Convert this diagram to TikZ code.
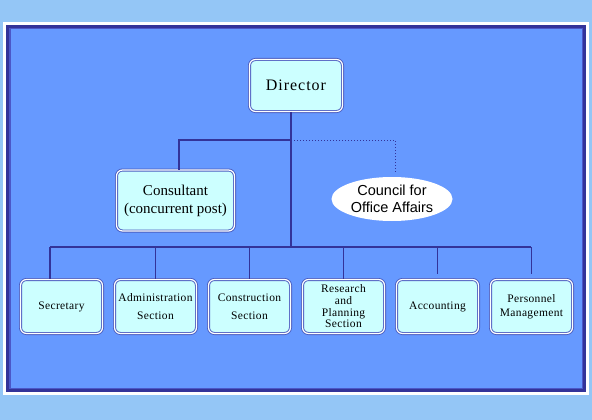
\documentclass[tikz,border=0pt]{standalone}
\usepackage{fontspec}
\setmainfont{Liberation Serif}
\newfontfamily\councilfont{Liberation Sans}
\usetikzlibrary{shapes.geometric}
\definecolor{bgblue}{HTML}{94C6F6}
\definecolor{panel}{HTML}{6699FF}
\definecolor{navy}{HTML}{333399}
\definecolor{frameinner}{HTML}{4B57C8}
\definecolor{boxfill}{HTML}{CCFFFF}
\definecolor{boxline}{HTML}{4A5CC0}
\begin{document}
\begin{tikzpicture}[x=1pt,y=-1pt,
  box/.style={draw=boxline, double=white, double distance=1.2pt, line width=0.9pt,
    fill=boxfill, rounded corners=6pt, align=center, inner sep=1pt},
  unitbox/.style={box, minimum width=82pt, minimum height=54pt},
  unitfont/.style={font=\fontsize{11.5}{#1}\selectfont\addfontfeature{LetterSpace=3}},
  link/.style={draw=navy, line width=1.4pt},
  mainlink/.style={draw=navy, line width=1.1pt},
  dotlink/.style={draw=navy, line width=1pt, dotted}]
  % background and frame
  \fill[bgblue] (0,0) rectangle (592,420);
  \fill[white] (3,22) rectangle (589,395);
  \fill[navy] (6,25) rectangle (586,392);
  \fill[frameinner] (9,28) rectangle (583,389);
  \fill[panel] (10.5,29.5) rectangle (581.5,387.5);
  \useasboundingbox (0,0) rectangle (592,420);

  % nodes
  \node[box, minimum width=93pt, minimum height=52pt,
        font=\fontsize{16}{18}\selectfont\addfontfeature{LetterSpace=6}] (dir) at (296,85.5) {Director};
  \node[box, minimum width=118pt, minimum height=61pt,
        font=\fontsize{15}{18}\selectfont] (cons) at (175.5,200.5) {Consultant\\(concurrent post)};
  \node[ellipse, fill=white, minimum width=121pt, minimum height=44pt, inner sep=0pt,
        align=center, font=\councilfont\fontsize{14.5}{17}\selectfont] (council) at (392,199) {Council for\\Office Affairs};

  \node[unitbox, unitfont=14] (sec) at (61.5,306.5) {Secretary};
  \node[unitbox, unitfont=18] (adm) at (155.5,306.5) {Administration\\Section};
  \node[unitbox, unitfont=18] (con) at (249.5,306.5) {Construction\\Section};
  \node[unitbox, unitfont=11.7, inner sep=0pt] (res) at (343.5,306.5) {Research\\and\\Planning\\Section};
  \node[unitbox, unitfont=14] (acc) at (437.5,306.5) {Accounting};
  \node[unitbox, unitfont=14] (per) at (531.5,306.5) {Personnel\\Management};

  % connectors
  \coordinate (hub) at (291,140);
  \coordinate (bus) at (291,247);
  \coordinate (busL) at (50,247);
  \coordinate (busR) at (531,247);
  \draw[mainlink] (dir.south -| hub) -- (bus);
  \draw[link] (hub) -| ([xshift=3.5pt]cons.north);
  \draw[dotlink] (hub) -| ([xshift=3pt,yshift=4pt]council.north);
  \draw[link] (busL) -- (busR);
  \draw[link] (busL) -- (busL |- sec.north);
  \draw[link] (bus -| adm.north) -- (adm.north);
  \draw[link] (bus -| con.north) -- (con.north);
  \draw[link] (bus -| res.north) -- (res.north);
  \draw[link] (bus -| acc.north) -- ([yshift=5pt]acc.north);
  \draw[link] (bus -| per.north) -- ([yshift=5pt]per.north);
\end{tikzpicture}
\end{document}
